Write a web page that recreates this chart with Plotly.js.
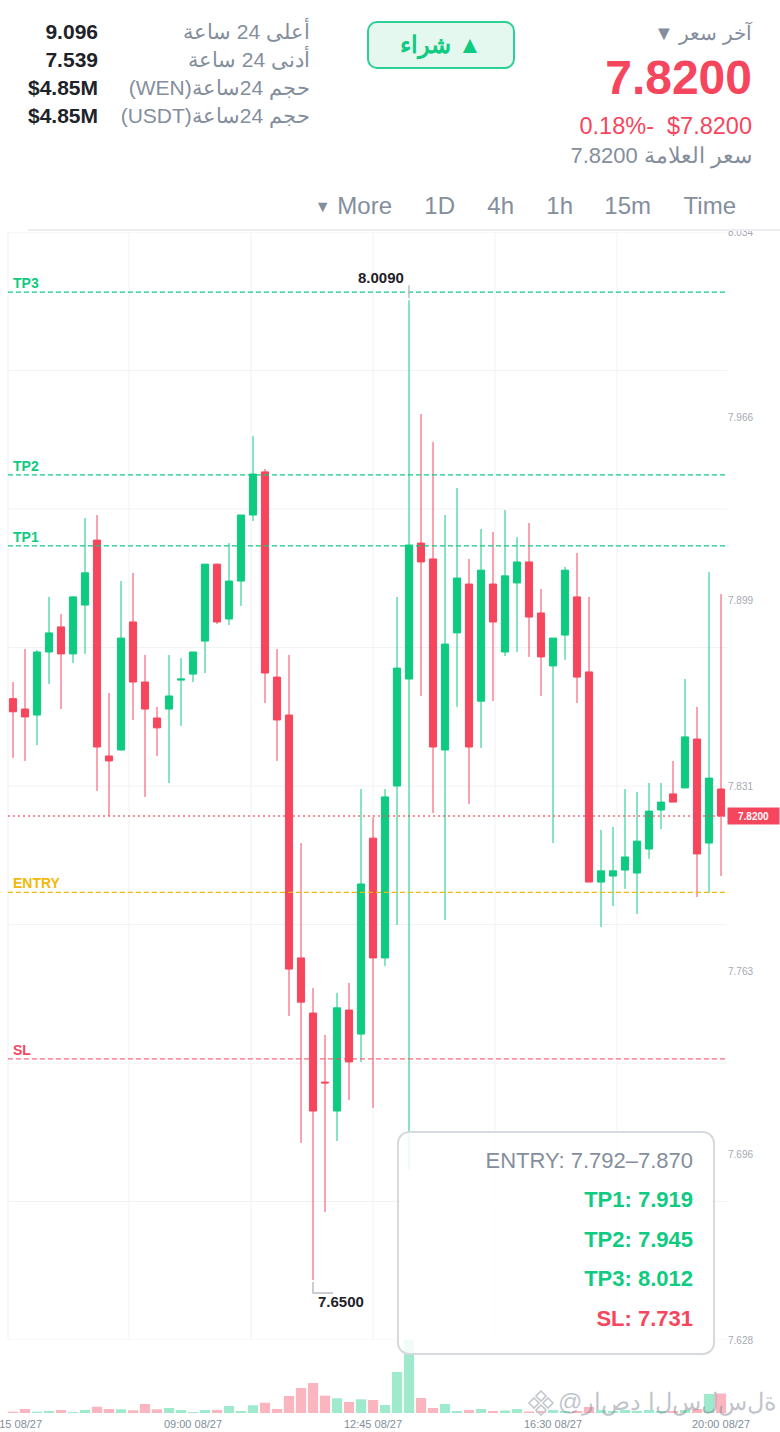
<!DOCTYPE html>
<html><head><meta charset="utf-8">
<script src="https://cdn.plot.ly/plotly-3.0.1.min.js"></script>
<style>
body{margin:0;width:780px;height:1432px;overflow:hidden;background:#fff;font-family:"Liberation Sans",Arial,sans-serif;position:relative}
.abs{position:absolute;white-space:nowrap}
.val{font-weight:bold;font-size:21px;color:#1e2329;line-height:28px;text-align:right}
.lbl{font-size:21px;color:#848e9c;line-height:28px}
.tf{font-size:24px;color:#848e9c;line-height:30px;top:191px}
.tip{position:absolute;right:20px;font-size:22px;line-height:28px;white-space:nowrap}
</style></head><body>
<div id="chart" class="abs" style="left:0;top:0;width:780px;height:1432px"></div>

<div id="hdr" class="abs" style="left:0;top:0;width:780px;height:229px;background:#fff">
  <div class="abs val" style="right:682px;top:18px">9.096</div>
  <div class="abs val" style="right:682px;top:46px">7.539</div>
  <div class="abs val" style="right:682px;top:74px">$4.85M</div>
  <div class="abs val" style="right:682px;top:102px">$4.85M</div>
  <div class="abs lbl" dir="rtl" style="right:470px;top:18px">أعلى 24 ساعة</div>
  <div class="abs lbl" dir="rtl" style="right:470px;top:46px">أدنى 24 ساعة</div>
  <div class="abs lbl" dir="rtl" style="right:470px;top:74px">حجم 24ساعة(WEN)</div>
  <div class="abs lbl" dir="rtl" style="right:470px;top:102px">حجم 24ساعة(USDT)</div>

  <div class="abs" dir="rtl" style="left:367px;top:21px;width:148px;height:48px;box-sizing:border-box;border:2px solid #2bd095;border-radius:10px;background:#e4f8ef;color:#0ecb81;font-weight:bold;font-size:24px;line-height:44px;text-align:center">▲ شراء</div>

  <div class="abs" dir="rtl" style="right:28px;top:19px;font-size:20px;color:#848e9c;line-height:28px">آخر سعر ▼</div>
  <div class="abs" style="right:28px;top:50px;font-size:48px;font-weight:bold;color:#f6465d;line-height:56px">7.8200</div>
  <div class="abs" dir="rtl" style="right:28px;top:111px;font-size:23.5px;color:#f6465d;line-height:30px">$7.8200&nbsp;&nbsp;-0.18%</div>
  <div class="abs" dir="rtl" style="right:28px;top:141px;font-size:22px;color:#848e9c;line-height:30px">سعر العلامة 7.8200</div>

  <div class="abs tf" style="right:44px">Time</div>
  <div class="abs tf" style="right:129px">15m</div>
  <div class="abs tf" style="right:207px">1h</div>
  <div class="abs tf" style="right:266px">4h</div>
  <div class="abs tf" style="right:325px">1D</div>
  <div class="abs tf" style="right:388px"><span style="font-size:16px;vertical-align:2px">▼</span> More</div>
</div>
<div class="abs" style="left:28px;top:229px;width:752px;height:2px;background:#ebedf0"></div>

<div id="tipbox" class="abs" style="left:397px;top:1131px;width:318px;height:224px;box-sizing:border-box;border:2px solid #d6d9dd;border-radius:12px;background:rgba(255,255,255,0.86)"></div>

<div class="abs" style="left:527px;top:1389px;width:28px;height:28px">
<svg width="28" height="28" viewBox="0 0 28 28"><g fill="none" stroke="#c3c8ce" stroke-width="1.6">
<path d="M14 2 L19 7 L14 12 L9 7 Z"/><path d="M7 9 L12 14 L7 19 L2 14 Z"/><path d="M21 9 L26 14 L21 19 L16 14 Z"/><path d="M14 16 L19 21 L14 26 L9 21 Z"/></g></svg></div>
<div class="abs" style="left:558px;top:1387px;font-size:24px;line-height:30px;color:rgba(130,138,150,0.5);direction:ltr;unicode-bidi:bidi-override">@&#x200C;ر&#x200C;ا&#x200C;ص&#x200C;د&#x200C; ا&#x200C;ل&#x200C;س&#x200C;ل&#x200C;س&#x200C;ل&#x200C;ة</div>

<script>
// ---- data ----
const times = ["05:15","05:30","05:45","06:00","06:15","06:30","06:45","07:00","07:15","07:30","07:45","08:00","08:15","08:30","08:45","09:00","09:15","09:30","09:45","10:00","10:15","10:30","10:45","11:00","11:15","11:30","11:45","12:00","12:15","12:30","12:45","13:00","13:15","13:30","13:45","14:00","14:15","14:30","14:45","15:00","15:15","15:30","15:45","16:00","16:15","16:30","16:45","17:00","17:15","17:30","17:45","18:00","18:15","18:30","18:45","19:00","19:15","19:30","19:45","20:00"].map(t => t + " 08/27");
const open  = [7.8630,7.8592,7.8570,7.8801,7.8893,7.8794,7.8973,7.9211,7.8420,7.8442,7.8911,7.8691,7.8559,7.8592,7.8698,7.8720,7.8841,7.9123,7.8922,7.9061,7.9303,7.9461,7.8709,7.8570,7.7680,7.7478,7.7225,7.7119,7.7489,7.7401,7.8119,7.7680,7.8310,7.8702,7.9200,7.9142,7.8442,7.8871,7.9050,7.8621,7.9050,7.8801,7.9054,7.9131,7.8944,7.8750,7.8863,7.9003,7.8728,7.7958,7.7980,7.8002,7.7991,7.8079,7.8222,7.8281,7.8303,7.8482,7.8101,7.8299];
const high  = [7.8691,7.8812,7.8808,7.9003,7.8940,7.9005,7.9292,7.9303,7.8651,7.9061,7.9091,7.8790,7.8600,7.8790,7.8779,7.8801,7.9123,7.9125,7.9200,7.9303,7.9592,7.9472,7.8812,7.8790,7.8101,7.7570,7.7398,7.7552,7.7588,7.8299,7.8196,7.8299,7.9003,8.0090,7.9673,7.9571,7.9303,7.9402,7.9142,7.9252,7.9241,7.9321,7.9222,7.9274,7.9032,7.8852,7.9113,7.9164,7.9003,7.8149,7.8160,7.8299,7.8288,7.8321,7.8321,7.8402,7.8702,7.8600,7.9094,7.9013];
const low   = [7.8413,7.8402,7.8460,7.8684,7.8592,7.8761,7.8794,7.8292,7.8200,7.8440,7.8552,7.8270,7.8420,7.8321,7.8530,7.8691,7.8724,7.8904,7.8900,7.8970,7.9281,7.8614,7.8402,7.7467,7.7002,7.6500,7.6749,7.7009,7.7159,7.7299,7.7130,7.7650,7.7801,7.6903,7.8640,7.8211,7.7819,7.8600,7.8244,7.8449,7.8621,7.8786,7.8801,7.8783,7.8640,7.8101,7.8772,7.8614,7.7958,7.7793,7.7870,7.7933,7.7841,7.8043,7.8152,7.8251,7.8303,7.7903,7.7918,7.7980];
const close = [7.8582,7.8563,7.8801,7.8871,7.8794,7.9003,7.9091,7.8453,7.8402,7.8852,7.8691,7.8592,7.8523,7.8640,7.8702,7.8801,7.9123,7.8911,7.9061,7.9303,7.9453,7.8724,7.8552,7.7639,7.7518,7.7119,7.7222,7.7497,7.7299,7.7951,7.7680,7.8270,7.8742,7.9193,7.9131,7.8453,7.8830,7.9072,7.8453,7.9101,7.8911,7.9080,7.9131,7.8929,7.8783,7.8852,7.9101,7.8709,7.7958,7.7999,7.7999,7.8050,7.8108,7.8218,7.8251,7.8251,7.8490,7.8061,7.8339,7.8200];
const volume = [13,40,13,20,30,10,30,63,40,37,27,90,37,50,30,10,30,30,70,20,77,103,40,170,250,300,173,147,110,137,130,80,410,730,150,50,90,20,30,40,20,25,40,15,20,30,20,20,60,30,20,30,20,30,20,20,30,40,190,195];
const tickIdx = [0,15,30,45,59];
const priceTicks = [8.034,7.966,7.899,7.831,7.763,7.696,7.628];
const levelNames  = ["TP3","TP2","TP1","ENTRY","SL"];
const levelValues = [8.012,7.945,7.919,7.792,7.731];
const entryRange = [7.792,7.870];
const lastPrice = 7.8200;

// ---- style ----
const GREEN = "#0ecb81", RED = "#f6465d", YEL = "#f0b90b";
const FONT = "Liberation Sans, Arial, sans-serif";
const levelColors = {TP3:GREEN, TP2:GREEN, TP1:GREEN, ENTRY:YEL, SL:"rgba(246,70,93,0.8)"};
const labelColors = {TP3:GREEN, TP2:GREEN, TP1:GREEN, ENTRY:YEL, SL:RED};
const yMin = 7.628, yMax = 8.034, gridStep = (yMax - yMin) / 8;
const volDom = 73 / 1181;

const upDown = close.map((c, i) => c >= open[i]);

const traces = [
  {type:"candlestick", x:times, open:open, high:high, low:low, close:close, xaxis:"x", yaxis:"y",
   increasing:{line:{color:GREEN, width:1}, fillcolor:GREEN},
   decreasing:{line:{color:RED, width:1}, fillcolor:RED},
   whiskerwidth:0, hoverinfo:"skip"},
  {type:"bar", x:times, y:volume, xaxis:"x", yaxis:"y2",
   marker:{color:upDown.map(u => u ? "rgba(14,203,129,0.4)" : "rgba(246,70,93,0.4)"), line:{width:0}},
   hoverinfo:"skip"}
];

const shapes = [];
const GRID = "#f1f2f4";
for (let k = 0; k <= 8; k++) {
  const v = yMax - k * gridStep;
  shapes.push({type:"line", layer:"below", xref:"paper", x0:0, x1:1, yref:"y", y0:v, y1:v, line:{color:GRID, width:1}});
}
const gridXStep = 122 / 12;
for (let k = -2; k <= 2; k++) {
  const xv = 30 + k * gridXStep;
  shapes.push({type:"line", layer:"below", xref:"x", x0:xv, x1:xv, yref:"y", y0:yMin, y1:yMax, line:{color:GRID, width:1}});
}
shapes.push({type:"line", layer:"below", xref:"paper", x0:0, x1:0, yref:"y", y0:yMin, y1:yMax, line:{color:GRID, width:1}});

levelNames.forEach((n, i) => {
  shapes.push({type:"line", xref:"paper", x0:0, x1:1, yref:"y", y0:levelValues[i], y1:levelValues[i],
    line:{color:levelColors[n], width:1.2, dash:"5px,3px"}});
});
shapes.push({type:"line", xref:"paper", x0:0, x1:1, yref:"y", y0:lastPrice, y1:lastPrice,
  line:{color:"rgba(246,70,93,0.6)", width:2, dash:"2px,3px"}});

const hiIdx = high.indexOf(Math.max(...high));
const loIdx = low.indexOf(Math.min(...low));
shapes.push({type:"line", xref:"x", x0:hiIdx, x1:hiIdx, yref:"y", ysizemode:"pixel", yanchor:high[hiIdx], y0:2, y1:15,
  line:{color:"#b9bec6", width:1.5}});
shapes.push({type:"path", xref:"x", yref:"y", xsizemode:"pixel", ysizemode:"pixel", xanchor:loIdx, yanchor:low[loIdx],
  path:"M0,-2L0,-13L20,-13", line:{color:"#b9bec6", width:1.5}});

const annotations = [];
levelNames.forEach((n, i) => {
  annotations.push({xref:"paper", x:0, xanchor:"left", xshift:3, yref:"y", y:levelValues[i], yanchor:"bottom", yshift:-1,
    text:"<b>" + n + "</b>", showarrow:false, font:{family:FONT, size:14, color:labelColors[n]}});
});
annotations.push({xref:"x", x:hiIdx, xanchor:"right", xshift:-3, yref:"y", y:high[hiIdx], yanchor:"middle", yshift:23,
  text:"<b>" + high[hiIdx].toFixed(4) + "</b>", showarrow:false, font:{family:FONT, size:15, color:"#1e2329"}});
annotations.push({xref:"x", x:loIdx, xanchor:"left", xshift:3, yref:"y", y:low[loIdx], yanchor:"middle", yshift:-22,
  text:"<b>" + low[loIdx].toFixed(4) + "</b>", showarrow:false, font:{family:FONT, size:15, color:"#1e2329"}});
annotations.push({xref:"paper", x:1, xanchor:"left", yref:"y", y:lastPrice, yanchor:"middle",
  text:"<b>" + lastPrice.toFixed(4) + "</b>", showarrow:false, bgcolor:RED, width:49, height:14, borderpad:1,
  font:{family:FONT, size:10, color:"#fff"}});

const layout = {
  width:780, height:1432,
  margin:{l:8, r:53, t:232, b:19},
  paper_bgcolor:"#fff", plot_bgcolor:"#fff",
  showlegend:false, hovermode:false, boxgap:0.15, bargap:0.15,
  font:{family:FONT},
  xaxis:{type:"category", range:[-0.417, 59.5], anchor:"y2", showgrid:false, zeroline:false, showline:false,
    tickmode:"array", tickvals:tickIdx.map(i => times[i]), ticktext:tickIdx.map(i => times[i]), ticks:"",
    ticklabelstandoff:3,
    tickfont:{size:11, color:"#848e9c"}, rangeslider:{visible:false}, fixedrange:true},
  yaxis:{domain:[volDom, 1], range:[yMin, yMax], side:"right", showgrid:false, zeroline:false, showline:false,
    tickmode:"array", tickvals:priceTicks, ticktext:priceTicks.map(v => v.toFixed(3)), ticks:"",
    tickfont:{size:10, color:"#a4aab3"}, fixedrange:true},
  yaxis2:{domain:[0, volDom], range:[0, 730], showgrid:false, zeroline:false, showticklabels:false, fixedrange:true},
  shapes:shapes, annotations:annotations
};

Plotly.newPlot("chart", traces, layout, {staticPlot:true, displayModeBar:false});

// tooltip box with levels
const tip = document.getElementById("tipbox");
const rows = [
  {t:"ENTRY: " + entryRange[0].toFixed(3) + "–" + entryRange[1].toFixed(3), c:"#848e9c", b:false},
  {t:"TP1: " + levelValues[2].toFixed(3), c:GREEN, b:true},
  {t:"TP2: " + levelValues[1].toFixed(3), c:GREEN, b:true},
  {t:"TP3: " + levelValues[0].toFixed(3), c:GREEN, b:true},
  {t:"SL: " + levelValues[4].toFixed(3), c:RED, b:true}
];
const rowTops = [14, 53, 93, 132, 172];
rows.forEach((r, i) => {
  const d = document.createElement("div");
  d.className = "tip";
  d.style.top = rowTops[i] + "px";
  d.style.color = r.c;
  d.style.fontWeight = r.b ? "bold" : "normal";
  d.textContent = r.t;
  tip.appendChild(d);
});
</script>
</body></html>
